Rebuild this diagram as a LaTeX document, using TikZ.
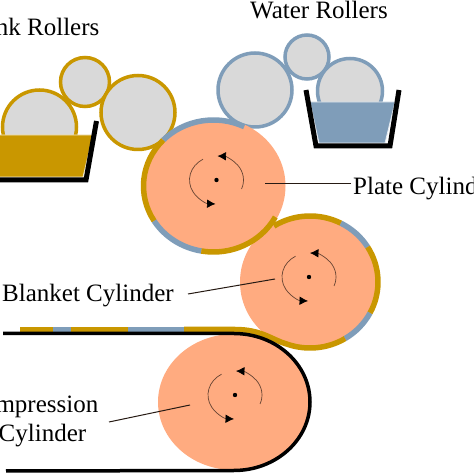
\documentclass[tikz,border=0pt]{standalone}
\usepackage{fontspec}
\setmainfont{Liberation Serif}
\usetikzlibrary{arrows.meta}
\definecolor{peach}{HTML}{FFAB80}
\definecolor{rollgrey}{HTML}{D9D9D9}
\definecolor{inkgold}{HTML}{C99700}
\definecolor{wblue}{HTML}{7F9DB9}
\tikzset{
  x=1pt,y=1pt,
  lab/.style={font=\fontsize{25}{25}\selectfont,anchor=base west,inner sep=0pt,text=black},
  leader/.style={line width=1pt,draw=black!85!peach},
  inkroll/.style={fill=rollgrey,draw=inkgold,line width=3.5pt},
  waterroll/.style={fill=rollgrey,draw=wblue,line width=3.5pt},
  trayline/.style={draw=black,line width=5pt,miter limit=10},
  rotarc/.style={line width=0.7pt,draw=black!60!peach},
  rothead/.style={rotarc,-{Latex[length=8.5pt,width=8.5pt,black]}},
  band/.style={line width=5.5pt},
}
% elliptical band: colour, cx, cy(from top), rx, ry, t1, t2
\newcommand{\bandarc}[7]{\draw[band,draw=#1] ({#2+#4*cos(#6)},{474-#3+#5*sin(#6)}) arc[start angle=#6,end angle=#7,x radius=#4,y radius=#5];}
% rotation sign: dot x,y; arc radii
\newcommand{\rotsign}[4]{%
  \fill[black] (#1,474-#2) circle[radius=2.2];
  \draw[rothead] ({#1+#3*cos(120)},{474-#2+#4*sin(120)}) arc[start angle=120,end angle=268,x radius=#3,y radius=#4];
  \draw[rothead] ({#1+#3*cos(-22)},{474-#2+#4*sin(-22)}) arc[start angle=-22,end angle=88,x radius=#3,y radius=#4];
}
\begin{document}
\begin{tikzpicture}
\useasboundingbox (0,0) rectangle (474,474);
\clip (0,0) rectangle (474,474);
\fill[white] (0,0) rectangle (474,474);
% ink rollers
\draw[inkroll] (39.5,474-127) circle[radius=37];
\draw[inkroll] (85,474-82) circle[radius=24.5];
\draw[inkroll] (138,474-112.5) circle[radius=37];
\fill[inkgold,draw=white!80!inkgold,line width=0.8pt] (-5,474-135) -- (93,474-135) -- (83,474-177) -- (-5,474-177) -- cycle;
\draw[trayline] (96.5,474-121) -- (86,474-180) -- (-5,474-180);
% water rollers
\draw[waterroll] (255,474-90) circle[radius=37];
\draw[waterroll] (307,474-57) circle[radius=22];
\draw[waterroll] (350,474-91) circle[radius=32.5];
\fill[wblue,draw=white!80!wblue,line width=0.8pt] (310,474-102) -- (395,474-102) -- (385,474-143) -- (319,474-143) -- cycle;
\draw[trayline] (306,474-90) -- (316,474-146) -- (390,474-146) -- (399,474-90);
% plate cylinder
\fill[peach] (213.5,474-186) ellipse[x radius=72,y radius=68];
\bandarc{wblue}{213.5}{186}{70}{66}{64}{136}
\bandarc{inkgold}{213.5}{186}{70}{66}{136}{212}
\bandarc{wblue}{213.5}{186}{70}{66}{212}{260}
\rotsign{216.5}{180}{27}{24}
% blanket cylinder
\fill[peach] (310,474-282) ellipse[x radius=70,y radius=68];
\bandarc{inkgold}{213.5}{186}{70}{66}{260}{332}
\bandarc{inkgold}{310}{282}{68}{66}{63}{122}
\bandarc{wblue}{310}{282}{68}{66}{32}{63}
\bandarc{inkgold}{310}{282}{68}{66}{-28}{32}
\bandarc{wblue}{310}{282}{68}{66}{-59}{-28}
\rotsign{309}{277}{27}{24}
% impression cylinder
\fill[peach] (234,474-402) ellipse[x radius=76,y radius=68];
\rotsign{235}{395}{27}{24}
% substrate: coloured strip running into the blanket band
\draw[band,draw=inkgold] ({310+68*cos(-59)},{474-282+66*sin(-59)}) arc[start angle=-59,end angle=-110,x radius=68,y radius=66] .. controls (272,474-340) and (262,474-329.5) .. (235,474-329.5) -- (184,474-329.5);
\draw[band,draw=wblue] (184,474-329.5) -- (128,474-329.5);
\draw[band,draw=inkgold] (128,474-329.5) -- (71,474-329.5);
\draw[band,draw=wblue] (71,474-329.5) -- (53,474-329.5);
\draw[band,draw=inkgold] (53,474-329.5) -- (20,474-329.5);
% black wrap
\draw[black,line width=3.5pt] (3,474-333.5) -- (234,474-333.5) arc[start angle=90,end angle=-90,x radius=76,y radius=68.5] -- (6,474-471);
% labels
\node[lab] (ink) at (-12.6,474-36) {Ink Rollers};
\node[lab] (water) at (250,474-19) {Water Rollers};
\node[lab] (plate) at (353,474-195) {Plate Cylinder};
\node[lab] (blanket) at (2,474-302) {Blanket Cylinder};
\node[lab] (impr) at (-13,474-413) {Impression};
\node[lab] (cyl) at (-1.5,474-442) {Cylinder};
% leaders
\coordinate (plateend) at (265,474-184);
\coordinate (plateout) at (351,474-184);
\coordinate (blankend) at (275,474-279);
\coordinate (blankout) at (188,474-294);
\coordinate (imprend) at (190,474-405);
\coordinate (improut) at (109,474-422);
\draw[leader] (plateout) -- (plateend);
\draw[leader] (blankout) -- (blankend);
\draw[leader] (improut) -- (imprend);
\end{tikzpicture}
\end{document}
